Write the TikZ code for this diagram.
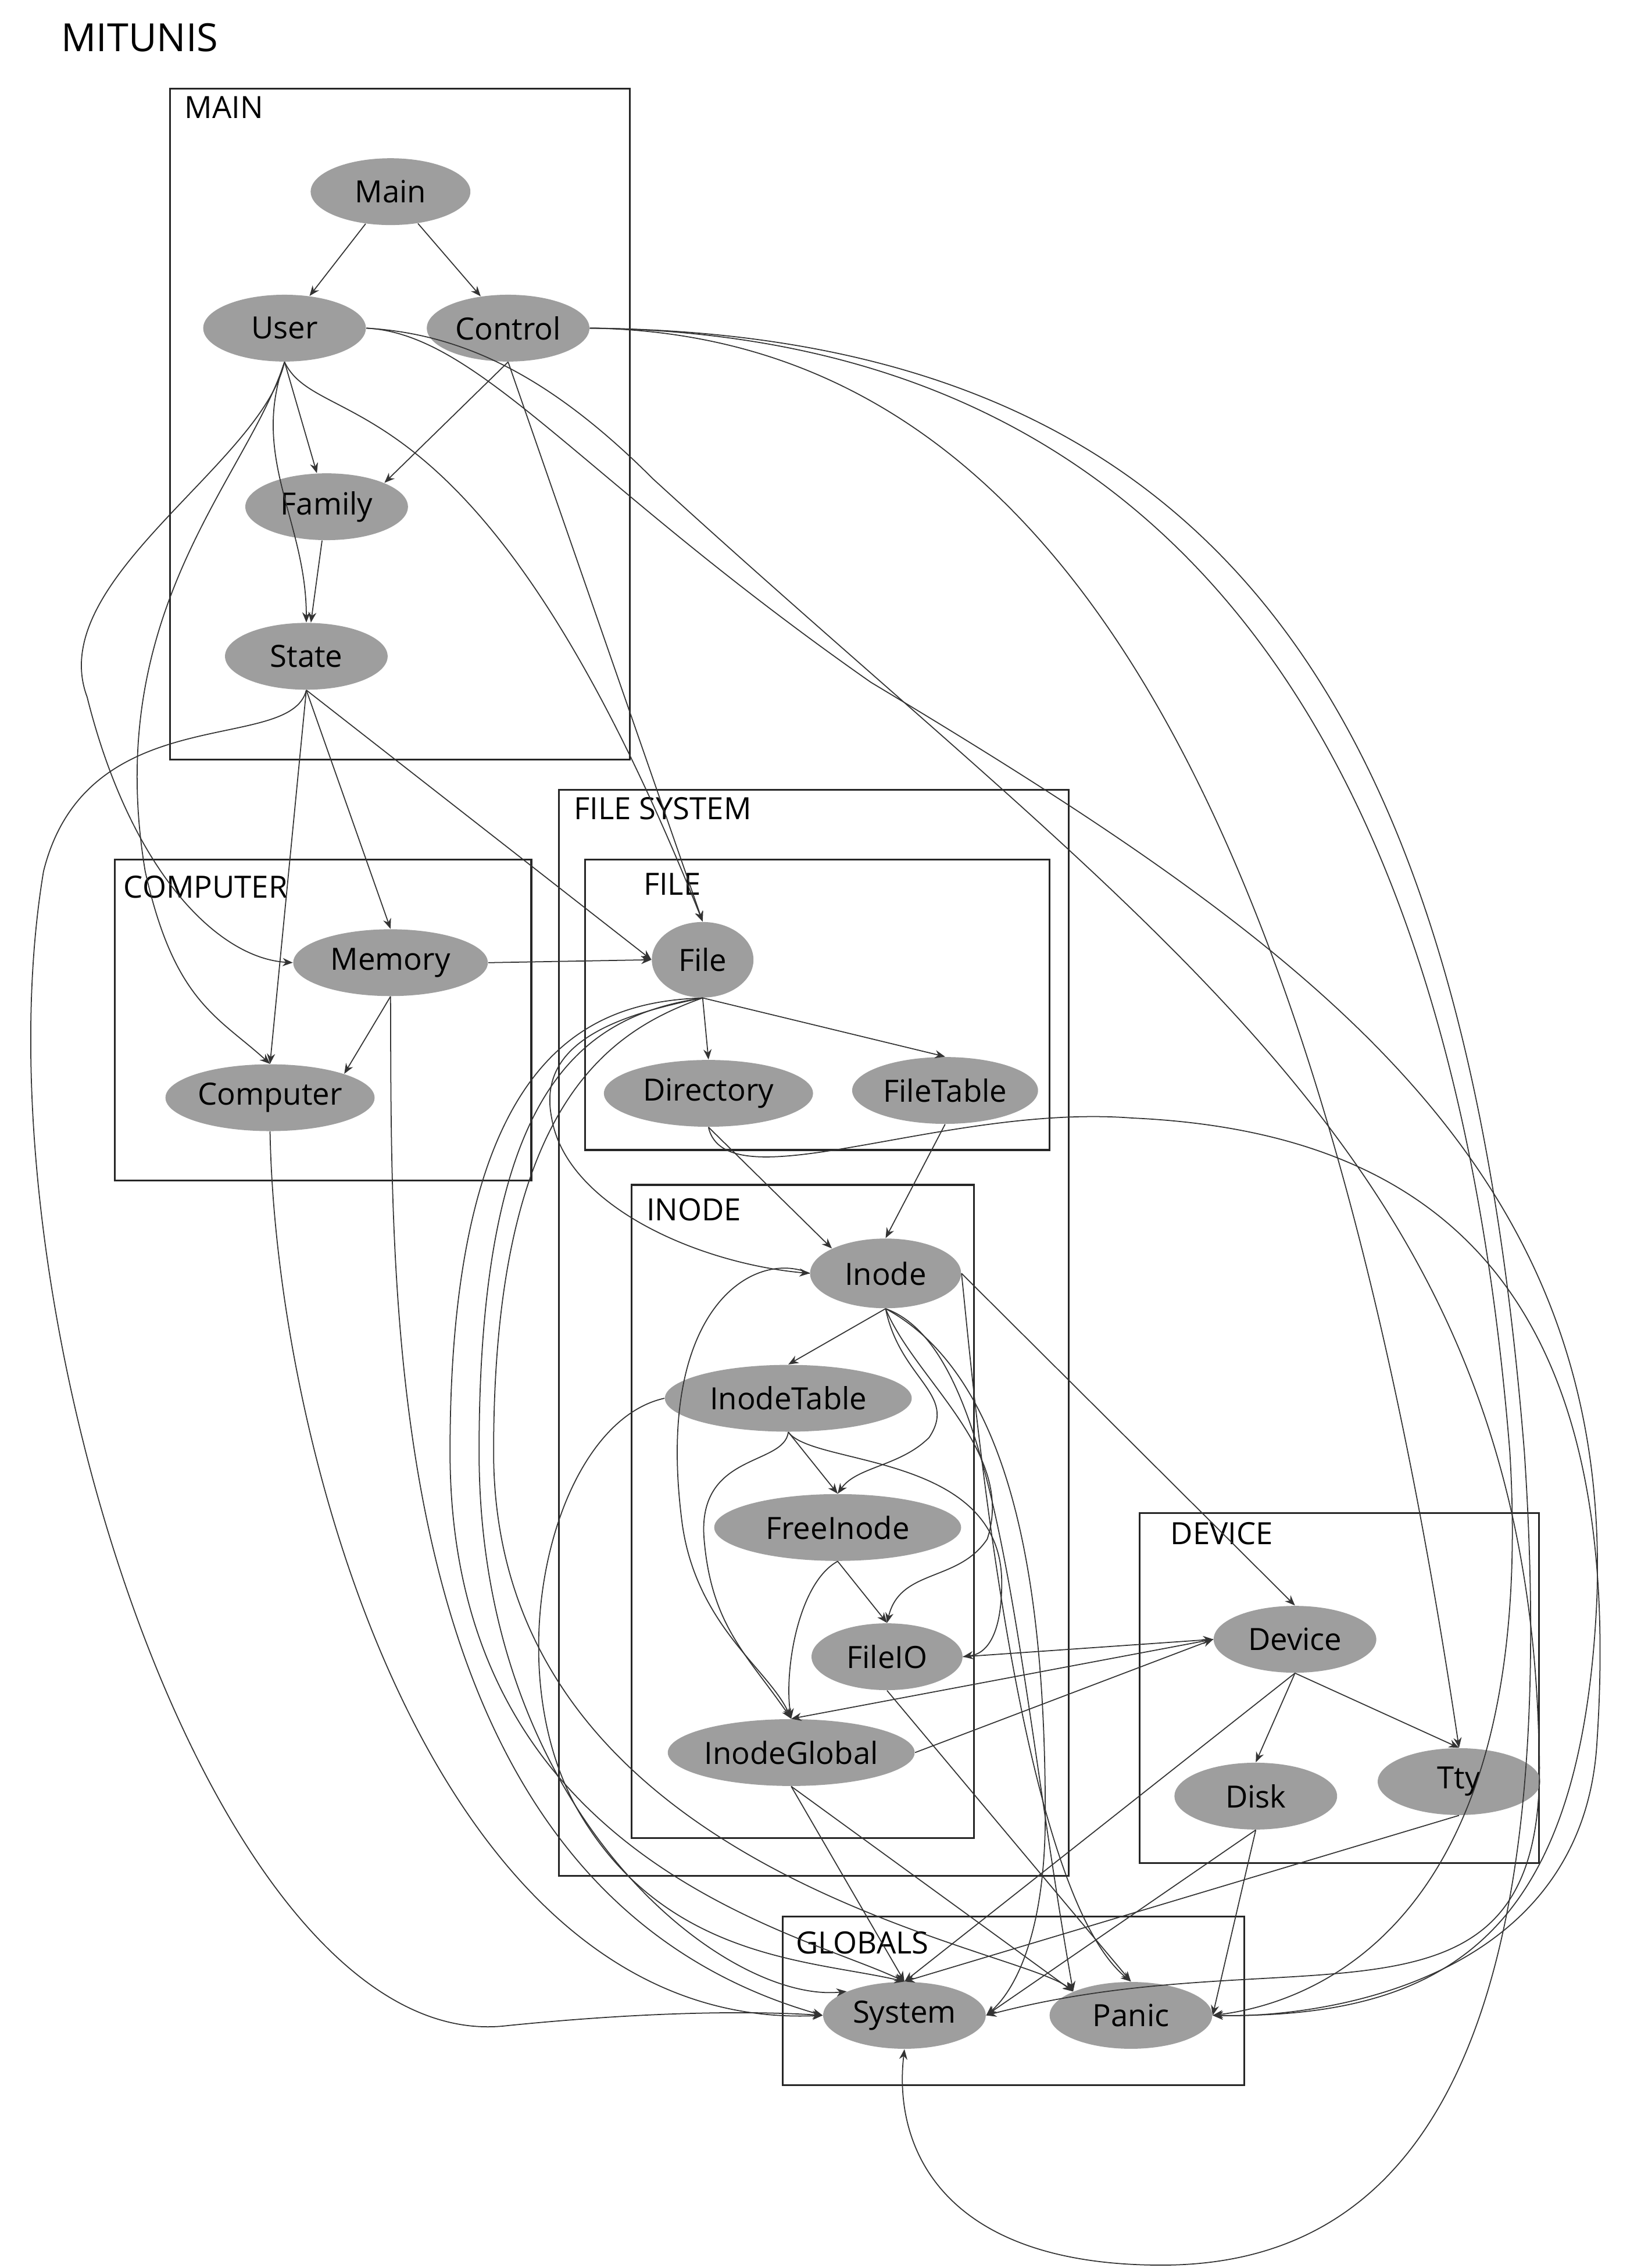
\documentclass[tikz,border=0pt]{standalone}
\usepackage{fontspec}
\setmainfont{Open Sans}
\usetikzlibrary{shapes.geometric,arrows.meta}
\begin{document}
\begin{tikzpicture}[x=0.025cm,y=-0.025cm,
 n/.style={ellipse,fill=black!38,minimum height=46\pgflinewidth,inner sep=0pt,font=\fontsize{15}{18}\selectfont},
 cl/.style={draw=black!85,line width=0.9pt},
 lab/.style={anchor=north west,inner sep=0pt,font=\fontsize{15}{18}\selectfont},
 e/.style={draw=black!80,line width=0.5pt,-{Stealth[length=5pt,width=4pt]}}]
\useasboundingbox (0,0) rectangle (1130,1562);
\node[lab,font=\fontsize{19}{22}\selectfont] (title) at (42,16) {MITUNIS};
% clusters
\draw[cl] (117,61) rectangle (434,523); \node[lab] (lmain) at (127,66) {MAIN};
\draw[cl] (385,544) rectangle (736,1292); \node[lab] (lfs) at (395,549) {FILE SYSTEM};
\draw[cl] (403,592) rectangle (723,792); \node[lab] (lfile) at (443,601) {FILE};
\draw[cl] (435,816) rectangle (671,1266); \node[lab] (lin) at (445,825) {INODE};
\draw[cl] (79,592) rectangle (366,813); \node[lab] (lcomp) at (85,603) {COMPUTER};
\draw[cl] (785,1042) rectangle (1060,1283); \node[lab] (ldev) at (806,1048) {DEVICE};
\draw[cl] (539,1320) rectangle (857,1436); \node[lab] (lglob) at (548,1330) {GLOBALS};
% nodes
\node[n,minimum width=110\pgflinewidth,minimum width=2.75cm,minimum height=1.15cm] (Main) at (269,132) {Main};
\tikzset{n/.append style={minimum height=1.15cm}}
\node[n,minimum width=2.8cm] (User) at (196,226) {User};
\node[n,minimum width=2.8cm] (Control) at (350,226) {Control};
\node[n,minimum width=2.8cm] (Family) at (225,349) {Family};
\node[n,minimum width=2.8cm] (State) at (211,452) {State};
\node[n,minimum width=3.35cm] (Memory) at (269,663) {Memory};
\node[n,minimum width=3.6cm] (Computer) at (186,756) {Computer};
\node[n,minimum width=1.75cm,minimum height=1.3cm] (File) at (484,661) {File};
\node[n,minimum width=3.6cm] (Directory) at (488,753) {Directory};
\node[n,minimum width=3.2cm] (FileTable) at (651,751) {FileTable};
\node[n,minimum width=2.6cm,minimum height=1.2cm] (Inode) at (610,877) {Inode};
\node[n,minimum width=4.25cm] (InodeTable) at (543,963) {InodeTable};
\node[n,minimum width=4.25cm] (FreeInode) at (577,1052) {FreeInode};
\node[n,minimum width=2.6cm] (FileIO) at (611,1141) {FileIO};
\node[n,minimum width=4.25cm] (InodeGlobal) at (545,1207) {InodeGlobal};
\node[n,minimum width=2.8cm] (Device) at (892,1129) {Device};
\node[n,minimum width=2.8cm] (Disk) at (865,1237) {Disk};
\node[n,minimum width=2.8cm] (Tty) at (1005,1227) {Tty};
\node[n,minimum width=2.8cm] (System) at (623,1388) {System};
\node[n,minimum width=2.8cm] (Panic) at (779,1388) {Panic};
% edges MAIN
\draw[e] (Main) -- (User);
\draw[e] (Main) -- (Control);
\draw[e] (User.south) -- (Family);
\draw[e] (Control.south) -- (Family.north east);
\draw[e] (User.south) to[out=-110,in=90] (State.north);
\draw[e] (Family) -- (State);
\draw[e] (User.south) .. controls (180,320) and (30,400) .. (60,480) .. controls (90,600) and (150,660) .. (Memory.west);
\draw[e] (User.south) .. controls (170,330) and (70,420) .. (100,600) .. controls (120,690) and (150,700) .. (Computer.north);
\draw[e] (User.south) .. controls (220,300) and (330,250) .. (File.north);
\draw[e] (Control.south) -- (File.north);
\draw[e] (State.south) -- (Memory.north);
\draw[e] (State.south) -- (Computer.north);
\draw[e] (State.south) -- (File.west);
\draw[e] (State.south) .. controls (200,520) and (60,480) .. (30,600) .. controls (-20,900) and (150,1420) .. (350,1395) .. controls (450,1385) and (520,1385) .. (System.west);
% long right-side edges
\draw[e] (User.east) .. controls (330,230) and (400,330) .. (600,470) .. controls (900,650) and (1110,800) .. (1100,1100) .. controls (1090,1330) and (1000,1390) .. (Panic.east);
\draw[e] (User.east) .. controls (320,230) and (380,260) .. (450,330) .. controls (800,650) and (1050,800) .. (1060,1200) .. controls (1070,1420) and (900,1330) .. (System.east);
\draw[e] (Control.east) .. controls (700,230) and (900,500) .. (Tty.north);
\draw[e] (Control.east) .. controls (800,230) and (1000,500) .. (1040,1000) .. controls (1060,1330) and (900,1380) .. (Panic.east);
\draw[e] (Control.east) .. controls (850,230) and (1010,500) .. (1050,1000) .. controls (1080,1450) and (950,1560) .. (800,1560) .. controls (650,1560) and (615,1480) .. (System.south);
% COMPUTER
\draw[e] (Memory.east) -- (File.west);
\draw[e] (Memory.south) -- (Computer.north east);
\draw[e] (Memory.south) .. controls (270,900) and (260,1300) .. (System.west);
\draw[e] (Computer.south) .. controls (190,1000) and (300,1400) .. (System.west);
% FILE
\draw[e] (File.south) -- (Directory.north);
\draw[e] (File.south) -- (FileTable.north);
\draw[e] (File.south) .. controls (420,700) and (370,720) .. (380,770) .. controls (390,830) and (480,870) .. (Inode.west);
\draw[e] (File.south) .. controls (400,700) and (330,750) .. (330,1000) .. controls (330,1250) and (500,1380) .. (System.north west);
\draw[e] (File.south) .. controls (420,710) and (340,760) .. (340,1000) .. controls (340,1290) and (700,1340) .. (Panic.north west);
\draw[e] (File.south) .. controls (410,690) and (310,720) .. (310,1000) .. controls (310,1280) and (550,1330) .. (System.north);
\draw[e] (Directory.south) -- (Inode.north west);
\draw[e] (Directory.south) .. controls (500,830) and (650,760) .. (780,770) .. controls (1000,780) and (1120,900) .. (1100,1200) .. controls (1090,1370) and (900,1390) .. (Panic.east);
\draw[e] (FileTable.south) -- (Inode.north);
% INODE
\draw[e] (Inode.south) -- (InodeTable.north);
\draw[e] (Inode.south) .. controls (620,950) and (660,960) .. (640,990) .. controls (620,1010) and (590,1010) .. (FreeInode.north);
\draw[e] (Inode.south) .. controls (630,950) and (700,1000) .. (680,1060) .. controls (660,1090) and (620,1080) .. (FileIO.north);
\draw[e] (Inode.west) .. controls (520,860) and (450,900) .. (470,1050) .. controls (480,1120) and (530,1150) .. (InodeGlobal.north);
\draw[e] (Inode.east) -- (Device.north);
\draw[e] (Inode.south) .. controls (700,950) and (720,1100) .. (720,1250) .. controls (720,1330) and (700,1370) .. (System.east);
\draw[e] (Inode.south) .. controls (690,930) and (700,1150) .. (Panic.north west);
\draw[e] (Inode.east) .. controls (670,950) and (700,1300) .. (Panic.north);
\draw[e] (InodeTable.south) -- (FreeInode.north);
\draw[e] (InodeTable.south) .. controls (560,1010) and (690,1000) .. (690,1090) .. controls (690,1140) and (670,1140) .. (FileIO.east);
\draw[e] (InodeTable.south) .. controls (540,1010) and (480,1000) .. (485,1060) .. controls (490,1120) and (515,1140) .. (InodeGlobal.north);
\draw[e] (InodeTable.west) .. controls (380,980) and (340,1150) .. (400,1250) .. controls (460,1350) and (560,1350) .. (System.north);
\draw[e] (FreeInode.south) -- (FileIO.north);
\draw[e] (FreeInode.south) .. controls (550,1090) and (540,1150) .. (InodeGlobal.north);
\draw[e] (FileIO.east) -- (Device.west);
\draw[e] (FileIO.south) -- (Panic.north);
\draw[e] (InodeGlobal.east) -- (Device.west);
\draw[e] (Device.west) -- (InodeGlobal.north);
\draw[e] (InodeGlobal.south) -- (System.north);
\draw[e] (InodeGlobal.south) -- (Panic.north west);
% DEVICE
\draw[e] (Device.south) -- (Disk.north);
\draw[e] (Device.south) -- (Tty.north);
\draw[e] (Device.south) -- (System.north);
\draw[e] (Disk.south) -- (System.east);
\draw[e] (Disk.south) -- (Panic.east);
\draw[e] (Tty.south) -- (System.north);
\end{tikzpicture}
\end{document}
